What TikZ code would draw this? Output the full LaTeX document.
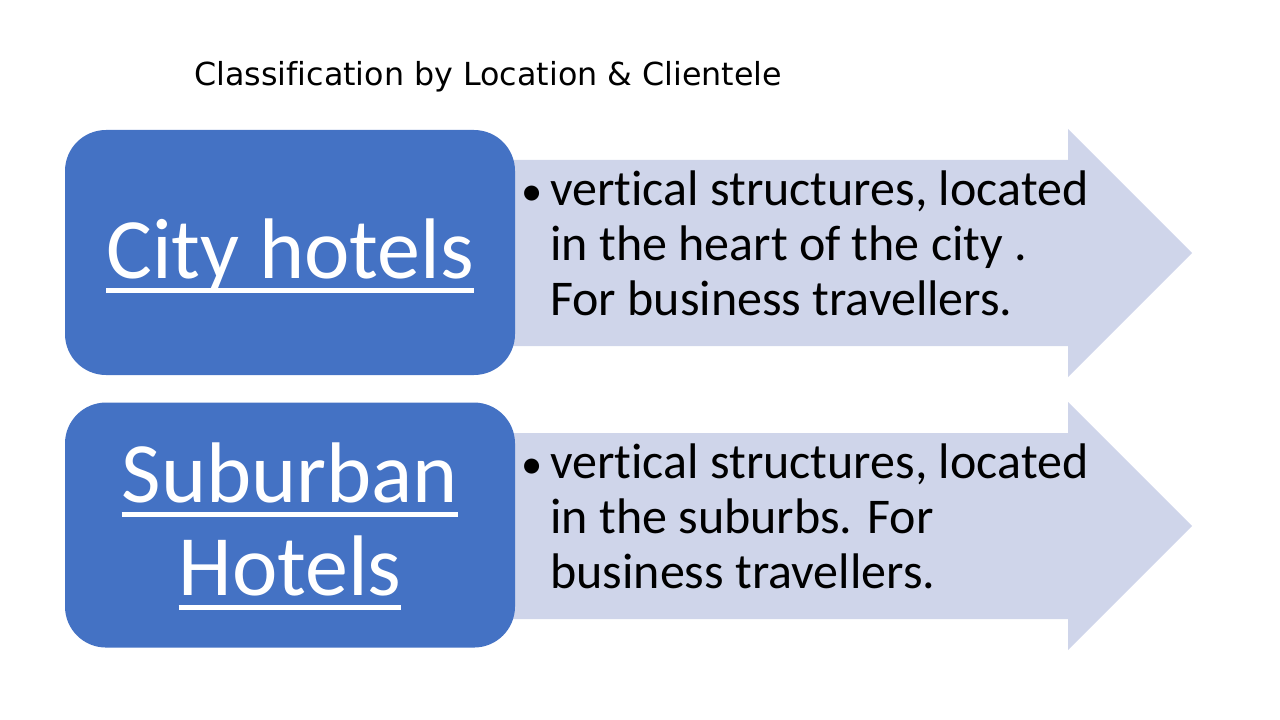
\documentclass[tikz,border=0pt]{standalone}
\usepackage{fontspec}
\setmainfont{Carlito}[Ligatures={NoCommon}]
\newfontfamily\titlefont{DejaVu Sans}[Ligatures={NoCommon}]
\usetikzlibrary{positioning}

\definecolor{hotelblue}{RGB}{68,114,196}
\definecolor{arrowlight}{RGB}{207,213,234}

% underlined box label with a fixed strut
\newcommand{\hotelline}[1]{\setbox0\hbox{#1}\rlap{\rule[-0.17em]{\wd0}{0.055em}}\box0\rule[-0.25em]{0pt}{1em}}
% bullet hanging left of the first line
\newcommand{\hangbullet}{\llap{\makebox[21.75pt][l]{\scalebox{0.85}{\textbullet}}}}

\begin{document}
\begin{tikzpicture}[x=0.75pt, y=-0.75pt, every node/.style={inner sep=0pt}]

    \useasboundingbox (0,0) rectangle (1280,720);

    % Title
    \node (title) [anchor=base west, font=\titlefont\fontsize{23.8}{28}\selectfont] at (194,86) {Classification by Location \& Clientele};

    % Light arrows behind the boxes
    \fill[arrowlight] (505,160) -- (1068,160) -- (1068,129) -- (1192,253) -- (1068,377) -- (1068,346) -- (505,346) -- cycle;
    \fill[arrowlight] (505,433) -- (1068,433) -- (1068,402) -- (1192,526) -- (1068,650) -- (1068,619) -- (505,619) -- cycle;

    % Blue boxes
    \node (city) [rectangle, fill=hotelblue, rounded corners=30.75pt, minimum width=337.5pt, minimum height=183.75pt] at (290,252.5) {};
    \node (suburb) [rectangle, fill=hotelblue, rounded corners=30.75pt, minimum width=337.5pt, minimum height=183.75pt, below=20.25pt of city] {};

    % Box labels
    \node (citylabel) [anchor=north, text=white, font=\fontsize{64.5}{69.75}\selectfont] at (290,213.5) {\hotelline{City hotels}};
    \node (suburblabel) [anchor=north, align=center, text=white, font=\fontsize{64.5}{69.75}\selectfont] at (290,437.5) {\hotelline{Suburban}\\\hotelline{Hotels}};

    % Bullet texts on the arrows
    \node (citytext) [anchor=north west, align=left, font=\fontsize{37.5}{41.25}\selectfont] at (550,166.5) {\hangbullet\strut vertical structures, located\\in the heart of the city .\\For business travellers.};
    \node (suburbtext) [anchor=north west, align=left, font=\fontsize{37.5}{41.25}\selectfont] at (550,439.5) {\hangbullet\strut vertical structures, located\\in the suburbs. For\\business travellers.};

\end{tikzpicture}
\end{document}
